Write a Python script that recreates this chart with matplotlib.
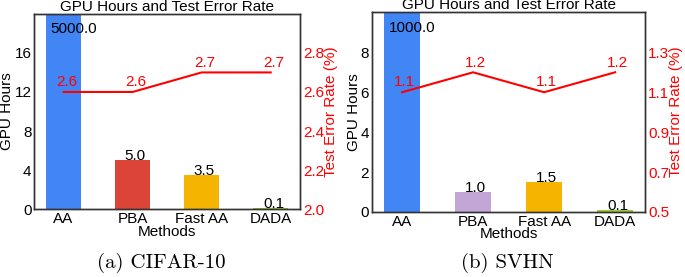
import matplotlib
matplotlib.use('Agg')
import matplotlib.pyplot as plt

plt.rcParams['font.family'] = ['Liberation Sans', 'DejaVu Sans']
plt.rcParams['axes.edgecolor'] = '.2'
plt.rcParams['axes.linewidth'] = 1.0

methods = ['AA', 'PBA', 'Fast AA', 'DADA']

cifar_gpu_hours = [5000.0, 5.0, 3.5, 0.1]
cifar_error = [2.6, 2.6, 2.7, 2.7]
cifar_colors = ['#4285F4', '#DB4437', '#F4B400', '#9ACD32']

svhn_gpu_hours = [1000.0, 1.0, 1.5, 0.1]
svhn_error = [1.1, 1.2, 1.1, 1.2]
svhn_colors = ['#4285F4', '#C3A6D6', '#F4B400', '#9ACD32']


def draw(fig, rect, hours, errors, colors, hours_max, hours_ticks,
         err_lim, err_ticks, caption, caption_x):
    ax = fig.add_axes(rect)
    x = range(len(methods))
    ax.bar(x, hours, width=0.5, color=colors, linewidth=0)
    ax.set_ylim(0, hours_max)
    ax.set_yticks(hours_ticks)
    ax.set_xticks(list(x))
    ax.set_xticklabels(methods)
    ax.tick_params(length=0, labelsize=11, pad=2)
    ax.set_xlabel('Methods', fontsize=11, labelpad=-1)
    ax.set_ylabel('GPU Hours', fontsize=11, labelpad=0)
    ax.set_title('GPU Hours and Test Error Rate', fontsize=11, pad=1)

    # bar values, the tall one is clipped so put its label near the top
    for i, h in enumerate(hours):
        if h > hours_max:
            ax.annotate('%.1f' % h, (i, hours_max * 0.9), xytext=(7, -2),
                        textcoords='offset points', ha='center', va='bottom', fontsize=11)
        else:
            ax.annotate('%.1f' % h, (i, h), xytext=(2, -2),
                        textcoords='offset points', ha='center', va='bottom', fontsize=11)

    ax2 = ax.twinx()
    ax2.plot(list(x), errors, color='red', linewidth=1.5)
    ax2.set_ylim(*err_lim)
    ax2.set_yticks(err_ticks)
    ax2.tick_params(length=0, labelsize=11, pad=2, labelcolor='red')
    ax2.set_ylabel('Test Error Rate (%)', color='red', fontsize=11, labelpad=0)
    for i, e in enumerate(errors):
        ax2.annotate('%.1f' % e, (i, e), xytext=(2, 2), textcoords='offset points',
                     ha='center', va='bottom', color='red', fontsize=11)

    fig.text(caption_x, 0.05, caption, ha='center', va='center', fontsize=15, family='cmr10')


fig = plt.figure(figsize=(6.85, 2.77), dpi=100)
draw(fig, [0.05, 0.245, 0.388, 0.705], cifar_gpu_hours, cifar_error, cifar_colors,
     20, [0, 4, 8, 12, 16], (2.0, 3.0), [2.0, 2.2, 2.4, 2.6, 2.8], '(a) CIFAR-10', 0.235)
draw(fig, [0.543, 0.235, 0.399, 0.72], svhn_gpu_hours, svhn_error, svhn_colors,
     10, [0, 2, 4, 6, 8], (0.5, 1.5), [0.5, 0.7, 0.9, 1.1, 1.3], '(b) SVHN', 0.74)
plt.savefig('out.png', dpi=100)
